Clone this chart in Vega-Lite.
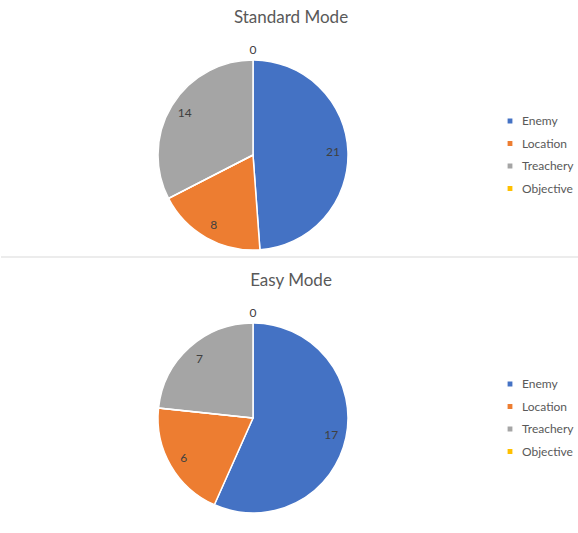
{
  "$schema": "https://vega.github.io/schema/vega-lite/v6.json",
  "padding": {"top": 9, "left": 0, "right": 0, "bottom": 0},
  "spacing": 0,
  "config": {
    "view": {"stroke": null},
    "font": "Lato",
    "title": {"fontSize": 17, "fontWeight": "normal", "color": "#595959", "offset": 17},
    "legend": {
      "labelFontSize": 12, "labelColor": "#595959", "symbolType": "square",
      "symbolSize": 40, "labelOffset": 6, "rowPadding": 8.5, "orient": "none"
    }
  },
  "datasets": {
    "standard": [
      {"type": "Enemy", "count": 21},
      {"type": "Location", "count": 8},
      {"type": "Treachery", "count": 14},
      {"type": "Objective", "count": 0}
    ],
    "easy": [
      {"type": "Enemy", "count": 17},
      {"type": "Location", "count": 6},
      {"type": "Treachery", "count": 7},
      {"type": "Objective", "count": 0}
    ],
    "line": [{"a": 0, "b": 1}]
  },
  "resolve": {"legend": {"color": "independent"}},
  "vconcat": [
    {
      "title": {"text": "Standard Mode", "dx": 38},
      "width": 504,
      "height": 190,
      "data": {"name": "standard"},
      "encoding": {
        "theta": {"field": "count", "type": "quantitative", "stack": true},
        "color": {
          "field": "type", "type": "nominal",
          "sort": ["Enemy", "Location", "Treachery", "Objective"],
          "scale": {"domain": ["Enemy", "Location", "Treachery", "Objective"], "range": ["#4472C4", "#ED7D31", "#A5A5A5", "#FFC000"]},
          "legend": {"title": null, "legendX": 503, "legendY": 55}
        }
      },
      "layer": [
        {"mark": {"type": "arc", "stroke": "white", "strokeWidth": 1.5}},
        {
          "transform": [{"filter": "datum.count > 0"}],
          "mark": {"type": "text", "radius": 80, "fontSize": 12, "fill": "#404040"},
          "encoding": {"text": {"field": "count"}, "color": {"field": "type", "type": "nominal", "legend": null}}
        },
        {
          "transform": [{"filter": "datum.count == 0"}],
          "mark": {"type": "text", "radius": 105, "fontSize": 12, "fill": "#404040"},
          "encoding": {"text": {"field": "count"}, "color": {"field": "type", "type": "nominal", "legend": null}}
        }
      ]
    },
    {
      "width": 578,
      "height": 19,
      "data": {"name": "line"},
      "mark": {"type": "rule", "color": "#D9D9D9", "strokeWidth": 1},
      "encoding": {
        "x": {"field": "a", "type": "quantitative", "axis": null, "scale": {"domain": [0, 1], "nice": false}},
        "x2": {"field": "b"},
        "y": {"value": 4}
      }
    },
    {
      "title": {"text": "Easy Mode", "dx": 38},
      "width": 504,
      "height": 190,
      "data": {"name": "easy"},
      "encoding": {
        "theta": {"field": "count", "type": "quantitative", "stack": true},
        "color": {
          "field": "type", "type": "nominal",
          "sort": ["Enemy", "Location", "Treachery", "Objective"],
          "scale": {"domain": ["Enemy", "Location", "Treachery", "Objective"], "range": ["#4472C4", "#ED7D31", "#A5A5A5", "#FFC000"]},
          "legend": {"title": null, "legendX": 503, "legendY": 55}
        }
      },
      "layer": [
        {"mark": {"type": "arc", "stroke": "white", "strokeWidth": 1.5}},
        {
          "transform": [{"filter": "datum.count > 0"}],
          "mark": {"type": "text", "radius": 80, "fontSize": 12, "fill": "#404040"},
          "encoding": {"text": {"field": "count"}, "color": {"field": "type", "type": "nominal", "legend": null}}
        },
        {
          "transform": [{"filter": "datum.count == 0"}],
          "mark": {"type": "text", "radius": 105, "fontSize": 12, "fill": "#404040"},
          "encoding": {"text": {"field": "count"}, "color": {"field": "type", "type": "nominal", "legend": null}}
        }
      ]
    }
  ]
}
